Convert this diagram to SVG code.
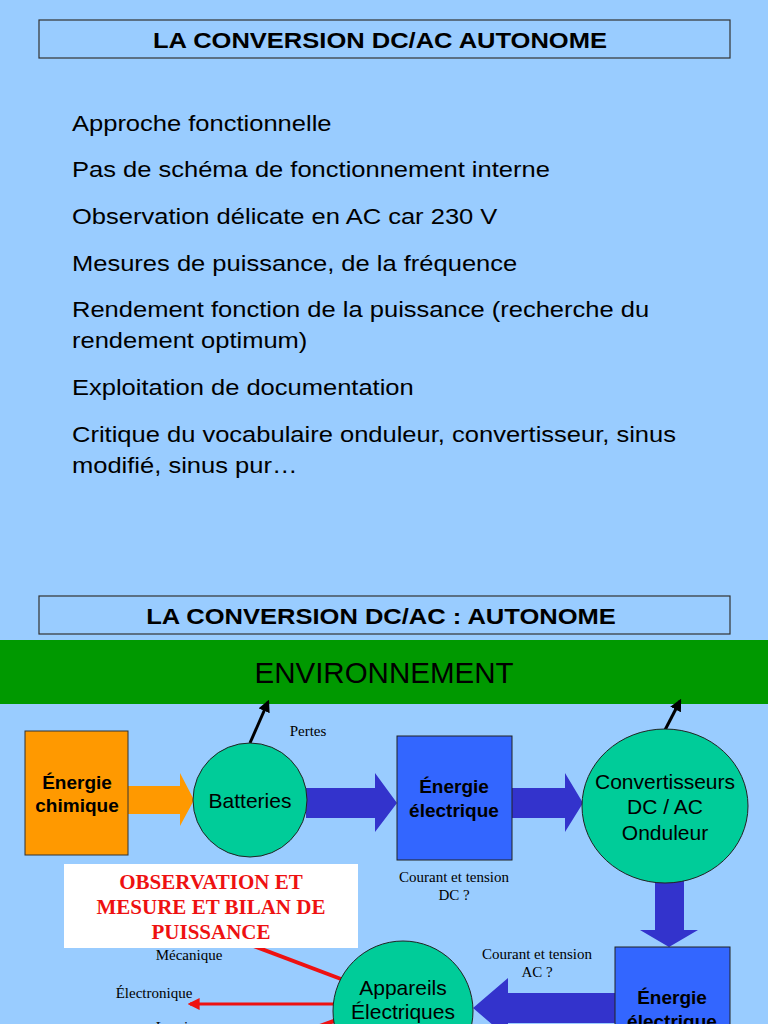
<svg xmlns="http://www.w3.org/2000/svg" width="768" height="1024" viewBox="0 0 768 1024">
<style>
.title{font-family:"Liberation Sans",Arial,sans-serif;font-size:22px;font-weight:bold;fill:#000;text-anchor:middle}
.bul{font-family:"Liberation Sans",Arial,sans-serif;font-size:22px;fill:#000}
.nodeB{font-family:"Liberation Sans",Arial,sans-serif;font-size:19px;font-weight:bold;fill:#000;text-anchor:middle}
.nodeN{font-family:"Liberation Sans",Arial,sans-serif;font-size:21px;fill:#000;text-anchor:middle}
.small{font-family:"Liberation Serif","Times New Roman",serif;font-size:15px;fill:#000;text-anchor:middle}
.obs{font-family:"Liberation Serif","Times New Roman",serif;font-size:21px;font-weight:bold;fill:#EE1111;text-anchor:middle}
.tbox{fill:#99CCFF;stroke:#333;stroke-width:1.2}
</style>
<defs>
<marker id="blk" viewBox="0 0 10 10" refX="8" refY="5" markerWidth="4" markerHeight="4" orient="auto"><path d="M0,0 L10,5 L0,10 z" fill="#000"/></marker>
<marker id="red" viewBox="0 0 10 10" refX="8" refY="5" markerWidth="4" markerHeight="4" orient="auto"><path d="M0,0 L10,5 L0,10 z" fill="#EE1111"/></marker>
</defs>
<rect width="768" height="1024" fill="#99CCFF"/>

<g id="title1">
<rect class="tbox" x="39" y="20" width="691" height="38"/>
<text class="title" x="380" y="48" transform="matrix(1.16,0,0,1,-60.8,0)">LA CONVERSION DC/AC AUTONOME</text>
</g>
<g id="bullets" transform="matrix(1.16,0,0,1,-11.52,0)">
<text class="bul" x="72" y="131">Approche fonctionnelle</text>
<text class="bul" x="72" y="177">Pas de schéma de fonctionnement interne</text>
<text class="bul" x="72" y="224">Observation délicate en AC car 230 V</text>
<text class="bul" x="72" y="271">Mesures de puissance, de la fréquence</text>
<text class="bul" x="72" y="317">Rendement fonction de la puissance (recherche du</text>
<text class="bul" x="72" y="348">rendement optimum)</text>
<text class="bul" x="72" y="395">Exploitation de documentation</text>
<text class="bul" x="72" y="442">Critique du vocabulaire onduleur, convertisseur, sinus</text>
<text class="bul" x="72" y="473">modifié, sinus pur…</text>
</g>
<g id="title2">
<rect class="tbox" x="39" y="596" width="691" height="38"/>
<text class="title" x="381" y="624" transform="matrix(1.16,0,0,1,-60.96,0)">LA CONVERSION DC/AC : AUTONOME</text>
</g>
<g id="environnement">
<rect x="0" y="640" width="768" height="64" fill="#009900"/>
<text x="384" y="683" font-family="Liberation Sans, Arial, sans-serif" font-size="29.5" text-anchor="middle" fill="#000">ENVIRONNEMENT</text>
</g>

<g id="connectors">
<path d="M128,786 H180 V773 L194,800 L180,826 V814 H128 Z" fill="#FF9900"/>
<path d="M306,788 H375 V773 L397,803 L375,832 V818 H306 Z" fill="#3333CC"/>
<path d="M512,788 H565 V773 L583,803 L565,832 V818 H512 Z" fill="#3333CC"/>
<path d="M655,880 H684 V930 H698 L669,947 L640,930 H655 Z" fill="#3333CC"/>
<path d="M615,993 H508 V978 L473,1008 L508,1038 V1023 H615 Z" fill="#3333CC"/>
<line x1="250" y1="743" x2="268" y2="702" stroke="#000" stroke-width="3" marker-end="url(#blk)"/>
<line x1="665" y1="730" x2="680" y2="701" stroke="#000" stroke-width="3" marker-end="url(#blk)"/>
<line x1="341" y1="979" x2="230" y2="937" stroke="#EE1111" stroke-width="4"/>
<line x1="334" y1="1004" x2="190" y2="1004" stroke="#EE1111" stroke-width="3" marker-end="url(#red)"/>
<line x1="334" y1="1021" x2="280" y2="1040" stroke="#EE1111" stroke-width="4"/>
</g>

<g id="energie-chimique">
<rect x="25" y="731" width="103" height="124" fill="#FF9900" stroke="#333" stroke-width="1"/>
<text class="nodeB" x="77" y="789">Énergie</text>
<text class="nodeB" x="77" y="812">chimique</text>
</g>
<g id="batteries">
<circle cx="250" cy="800" r="57" fill="#00CC99" stroke="#222" stroke-width="1"/>
<text class="nodeN" x="250" y="808" font-size="20">Batteries</text>
</g>
<text class="small" x="308" y="736">Pertes</text>
<g id="energie-electrique-1">
<rect x="397" y="736" width="115" height="124" fill="#3366FF" stroke="#222" stroke-width="1"/>
<text class="nodeB" x="454" y="793">Énergie</text>
<text class="nodeB" x="454" y="817">électrique</text>
</g>
<text class="small" x="454" y="882">Courant et tension</text>
<text class="small" x="454" y="900">DC ?</text>
<g id="convertisseurs">
<ellipse cx="665" cy="806" rx="83" ry="77" fill="#00CC99" stroke="#222" stroke-width="1"/>
<text class="nodeN" x="665" y="789">Convertisseurs</text>
<text class="nodeN" x="665" y="814">DC / AC</text>
<text class="nodeN" x="665" y="840">Onduleur</text>
</g>
<g id="energie-electrique-2">
<rect x="615" y="947" width="115" height="100" fill="#3366FF" stroke="#222" stroke-width="1"/>
<text class="nodeB" x="672" y="1004">Énergie</text>
<text class="nodeB" x="672" y="1028">électrique</text>
</g>
<text class="small" x="537" y="959">Courant et tension</text>
<text class="small" x="537" y="977">AC ?</text>
<g id="appareils">
<circle cx="403" cy="1011" r="70" fill="#00CC99" stroke="#222" stroke-width="1"/>
<text class="nodeN" x="403" y="995">Appareils</text>
<text class="nodeN" x="403" y="1019">Électriques</text>
</g>
<g id="observation">
<rect x="64" y="864" width="294" height="84" fill="#FFFFFF"/>
<text class="obs" x="211" y="889">OBSERVATION ET</text>
<text class="obs" x="211" y="914">MESURE ET BILAN DE</text>
<text class="obs" x="211" y="939">PUISSANCE</text>
</g>
<text class="small" x="189" y="960">Mécanique</text>
<text class="small" x="154" y="998">Électronique</text>
<text class="small" x="189" y="1032">Lumineuse</text>
</svg>
